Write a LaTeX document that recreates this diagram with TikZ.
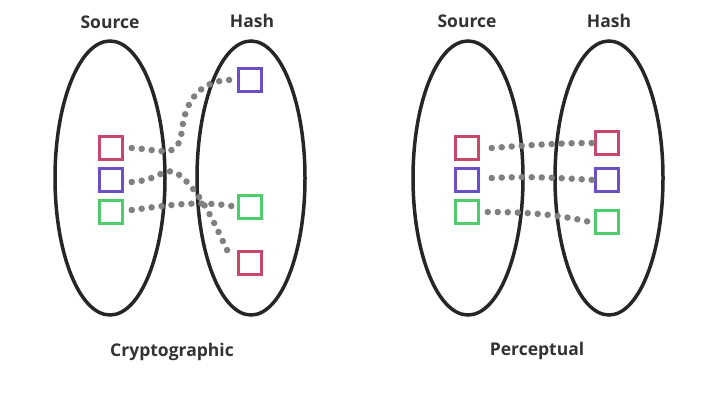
\documentclass[tikz,border=0pt]{standalone}
\usepackage{fontspec}
\setmainfont{Open Sans}
\begin{document}
\begin{tikzpicture}[x=1pt,y=-1pt,
  ell/.style={draw=black!85,line width=3.5pt},
  sq/.style={draw=#1,line width=2.5pt,minimum size=23pt,inner sep=0pt},
  lab/.style={font=\bfseries\fontsize{17.5}{20}\selectfont,text=black!80},
  dots/.style={draw=gray,line width=6.5pt,line cap=round,dash pattern=on 0pt off 10pt}]
\definecolor{cr}{HTML}{C9476A}\definecolor{cp}{HTML}{6A4FC9}\definecolor{cg}{HTML}{4ECB6A}
\useasboundingbox (0,0) rectangle (720,400);
\draw[ell] (110,178) ellipse [x radius=55,y radius=137];
\draw[ell] (251,178) ellipse [x radius=54,y radius=137];
\draw[ell] (468,178) ellipse [x radius=55,y radius=137];
\draw[ell] (609,178) ellipse [x radius=54,y radius=137];
\node[lab] (s1) at (110,22) {Source};
\node[lab] (h1) at (252,21) {Hash};
\node[lab] (s2) at (467,21) {Source};
\node[lab] (h2) at (609,21) {Hash};
\node[lab] (c) at (172,352) {Cryptographic};
\node[lab] (p) at (537,351) {Perceptual};
\node[sq=cr] (a1) at (111,148) {};
\node[sq=cp] (a2) at (111,180) {};
\node[sq=cg] (a3) at (111,212) {};
\node[sq=cp] (b1) at (250,80) {};
\node[sq=cg] (b2) at (250,207) {};
\node[sq=cr] (b3) at (250,263) {};
\node[sq=cr] (c1) at (467,148) {};
\node[sq=cp] (c2) at (467,180) {};
\node[sq=cg] (c3) at (467,212) {};
\node[sq=cr] (d1) at (607,143) {};
\node[sq=cp] (d2) at (607,180) {};
\node[sq=cg] (d3) at (607,222) {};
\draw[dots] (a1.east) ++(8,0) .. controls (165,150) and (178,160) .. (182,130) .. controls (186,95) and (205,78) .. (b1.west);
\draw[dots] (a2.east) ++(8,2) .. controls (165,180) and (165,160) .. (185,180) .. controls (205,200) and (215,225) .. (228,252);
\draw[dots] (a3.east) ++(8,-2) .. controls (170,205) and (200,200) .. (b2.west);
\draw[dots] (c1.east) ++(12,0) .. controls (530,145) and (560,143) .. (d1.west);
\draw[dots] (c2.east) ++(12,-2) .. controls (530,176) and (560,178) .. (d2.west);
\draw[dots] (c3.east) ++(8,0) .. controls (530,212) and (560,215) .. (590,222);
\end{tikzpicture}
\end{document}
